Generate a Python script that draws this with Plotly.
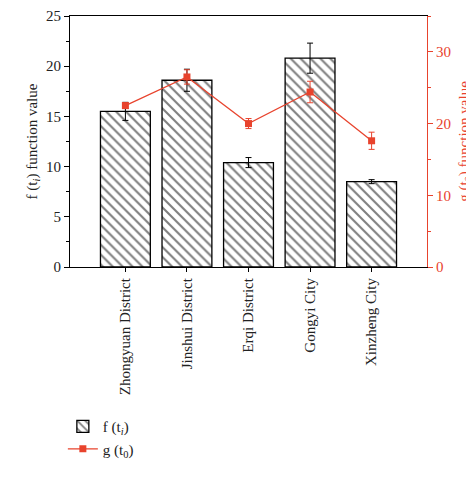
"""Bar + line chart of f(t_i) and g(t_0) function values by district."""

import plotly.graph_objects as go


districts = ["Zhongyuan District", "Jinshui District", "Erqi District",
             "Gongyi City", "Xinzheng City"]
f_values = [15.5, 18.6, 10.4, 20.8, 8.5]
f_errors = [0.9, 1.1, 0.5, 1.5, 0.2]
g_values = [22.5, 26.5, 20.0, 24.4, 17.6]
g_errors = [0.4, 1.0, 0.7, 1.5, 1.2]

RED = "#e8432d"
FONT = "Liberation Serif"


def main() -> None:
    fig = go.Figure()

    fig.add_trace(go.Bar(
        x=districts,
        y=f_values,
        name="f (t<sub><i>i</i></sub>)",
        width=0.81,
        marker=dict(
            color="white",
            line=dict(color="black", width=1.3),
            pattern=dict(shape="\\", fgcolor="black", bgcolor="white",
                         size=7, solidity=0.3),
        ),
        error_y=dict(type="data", array=f_errors, color="black",
                     thickness=1, width=3),
    ))

    fig.add_trace(go.Scatter(
        x=districts,
        y=g_values,
        name="g (t<sub>0</sub>)",
        yaxis="y2",
        mode="lines+markers",
        line=dict(color=RED, width=1.3),
        marker=dict(symbol="square", size=7, color=RED),
        error_y=dict(type="data", array=g_errors, color=RED,
                     thickness=1, width=3),
    ))

    # page body adds an 8px offset, so the figure is a little smaller
    fig.update_layout(
        width=466,
        height=473,
        margin=dict(l=62, r=47, t=0, b=214),
        paper_bgcolor="white",
        plot_bgcolor="white",
        font=dict(family=FONT, size=15, color="#222222"),
        showlegend=True,
        legend=dict(
            x=-0.02, y=-0.57, xanchor="left", yanchor="top",
            bgcolor="rgba(0,0,0,0)", font=dict(size=15),
            tracegroupgap=2, itemwidth=30,
        ),
        xaxis=dict(
            range=[-0.9, 4.9],
            tickangle=-90,
            showline=True, linecolor="black", linewidth=1.2, mirror=True,
            ticks="outside", ticklen=4, tickcolor="black",
            showgrid=False,
            tickfont=dict(size=15),
        ),
        yaxis=dict(
            range=[0, 25],
            dtick=5,
            ticklabeloverflow="allow",
            showline=True, linecolor="black", linewidth=1.2,
            ticks="outside", ticklen=5, tickcolor="black",
            minor=dict(ticks="outside", ticklen=3, dtick=2.5,
                       tickcolor="black"),
            showgrid=False, zeroline=False,
            title=dict(text="f (t<sub><i>i</i></sub>) function value",
                       font=dict(size=15), standoff=4),
        ),
        yaxis2=dict(
            range=[0, 35],
            dtick=10,
            overlaying="y",
            side="right",
            showline=True, linecolor=RED, linewidth=1.2,
            ticks="outside", ticklen=5, tickcolor=RED,
            minor=dict(ticks="outside", ticklen=3, dtick=5, tickcolor=RED),
            showgrid=False, zeroline=False,
            tickfont=dict(color=RED, size=15),
            title=dict(text="g (t<sub>0</sub>) function value",
                       font=dict(color=RED, size=15), standoff=8),
        ),
    )

    fig.write_html("out.html")


if __name__ == "__main__":
    main()
